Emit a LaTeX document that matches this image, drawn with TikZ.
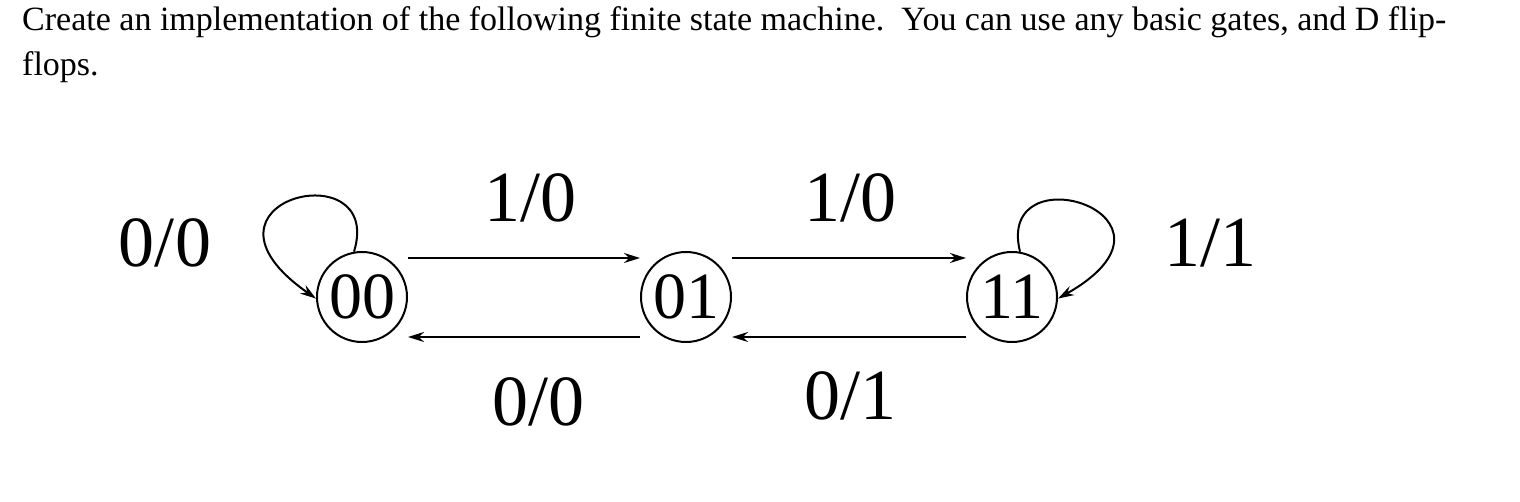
\documentclass[tikz,border=0pt]{standalone}
\usepackage{fontspec}
\setmainfont{Liberation Serif}
\usetikzlibrary{arrows.meta}
\begin{document}
\begin{tikzpicture}[x=1pt,y=-1pt,
  st/.style={circle,draw,line width=2pt,minimum size=90pt,inner sep=0pt,font=\fontsize{66}{66}\selectfont},
  lbl/.style={font=\fontsize{72}{72}\selectfont},
  tr/.style={line width=2pt,-{Stealth[length=16pt,width=10pt]}}]
\useasboundingbox (0,0) rectangle (1520,502);
\node[anchor=north west,align=left,font=\fontsize{34}{45}\selectfont,inner sep=0pt] (hdr) at (22,6)
 {Create an implementation of the following finite state machine.\ \ You can use any basic gates, and D flip-\\flops.};
\node[st] (s00) at (362,297) {00};
\node[st] (s01) at (686,297) {01};
\node[st] (s11) at (1012,297) {11};
\draw[tr] ([yshift=39pt]s00.east) -- ([yshift=39pt]s01.west);
\draw[tr] ([yshift=39pt]s01.east) -- ([yshift=39pt]s11.west);
\draw[tr] ([yshift=-40pt]s11.west) -- ([yshift=-40pt]s01.east);
\draw[tr] ([yshift=-40pt]s01.west) -- ([yshift=-40pt]s00.east);
\draw[tr] (s00.100) .. controls (385,150) and (175,200) .. (s00.182);
\draw[tr] (s11.80) .. controls (995,150) and (1205,215) .. (s11.358);
\node[lbl] (a) at (530,198) {1/0};
\node[lbl] (b) at (850,198) {1/0};
\node[lbl] (c) at (538,402) {0/0};
\node[lbl] (d) at (850,396) {0/1};
\node[lbl] (e) at (165,243) {0/0};
\node[lbl] (f) at (1210,243) {1/1};
\end{tikzpicture}
\end{document}
